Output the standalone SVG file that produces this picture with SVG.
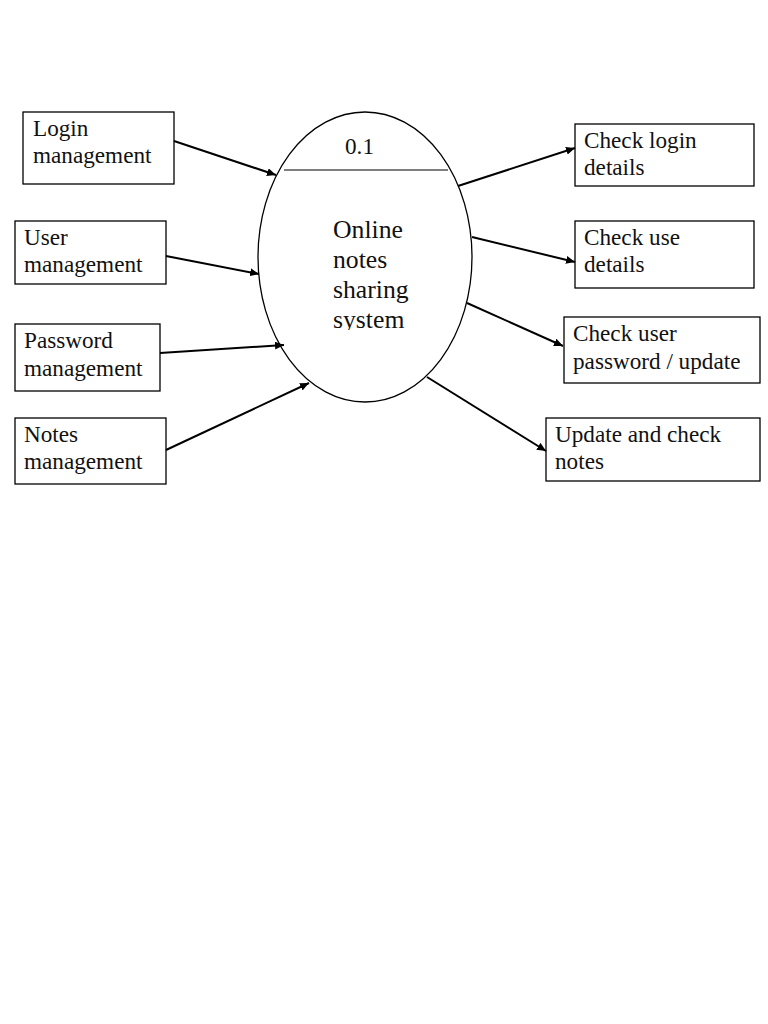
<svg xmlns="http://www.w3.org/2000/svg" width="768" height="1024" viewBox="0 0 768 1024">
<style>
.box{fill:#fff;stroke:#000;stroke-width:1.3}
.t{font-family:"Liberation Serif","Times New Roman",serif;font-size:23.2px;fill:#111}
.c{font-family:"Liberation Serif","Times New Roman",serif;font-size:25.7px;fill:#111}
.ln{stroke:#000;stroke-width:2;fill:none;marker-end:url(#ah)}
</style>
<defs>
<marker id="ah" markerWidth="10" markerHeight="8" refX="9" refY="4" orient="auto" markerUnits="userSpaceOnUse">
<path d="M0,0 L9,4 L0,8 Z" fill="#000"/>
</marker>
<clipPath id="cc"><rect x="300" y="200" width="150" height="130"/></clipPath>
</defs>
<rect width="768" height="1024" fill="#fff"/>
<g id="process">
<ellipse cx="365" cy="257" rx="107" ry="145" fill="#fff" stroke="#000" stroke-width="1.3"/>
<line x1="284" y1="170" x2="448" y2="170" stroke="#000" stroke-width="1.2"/>
<text class="t" x="345" y="154">0.1</text>
<g clip-path="url(#cc)">
<text class="c" x="333" y="238">Online</text>
<text class="c" x="333" y="268">notes</text>
<text class="c" x="333" y="298">sharing</text>
<text class="c" x="333" y="328">system</text>
</g>
</g>
<g id="login">
<rect class="box" x="23" y="112" width="151" height="72"/>
<text class="t" x="33" y="136">Login</text>
<text class="t" x="33" y="163">management</text>
</g>
<g id="user">
<rect class="box" x="15" y="221" width="151" height="63"/>
<text class="t" x="24" y="245">User</text>
<text class="t" x="24" y="272">management</text>
</g>
<g id="password">
<rect class="box" x="15" y="324" width="145" height="67"/>
<text class="t" x="24" y="348">Password</text>
<text class="t" x="24" y="376">management</text>
</g>
<g id="notes">
<rect class="box" x="15" y="418" width="151" height="66"/>
<text class="t" x="24" y="442">Notes</text>
<text class="t" x="24" y="469">management</text>
</g>
<g id="checklogin">
<rect class="box" x="575" y="124" width="179" height="62"/>
<text class="t" x="584" y="148">Check login</text>
<text class="t" x="584" y="175">details</text>
</g>
<g id="checkuse">
<rect class="box" x="575" y="221" width="179" height="67"/>
<text class="t" x="584" y="245">Check use</text>
<text class="t" x="584" y="272">details</text>
</g>
<g id="checkpassword">
<rect class="box" x="564" y="317" width="196" height="66"/>
<text class="t" x="573" y="341">Check user</text>
<text class="t" x="573" y="369">password / update</text>
</g>
<g id="updatenotes">
<rect class="box" x="546" y="418" width="214" height="63"/>
<text class="t" x="555" y="442">Update and check</text>
<text class="t" x="555" y="469">notes</text>
</g>
<g id="connectors">
<line class="ln" x1="174" y1="141" x2="276" y2="175"/>
<line class="ln" x1="166" y1="256" x2="259" y2="274"/>
<line class="ln" x1="160" y1="353" x2="284" y2="345"/>
<line class="ln" x1="166" y1="450" x2="309" y2="383"/>
<line class="ln" x1="458" y1="186" x2="575" y2="148"/>
<line class="ln" x1="472" y1="237" x2="575" y2="262"/>
<line class="ln" x1="467" y1="303" x2="563" y2="346"/>
<line class="ln" x1="427" y1="377" x2="546" y2="451"/>
</g>
</svg>
